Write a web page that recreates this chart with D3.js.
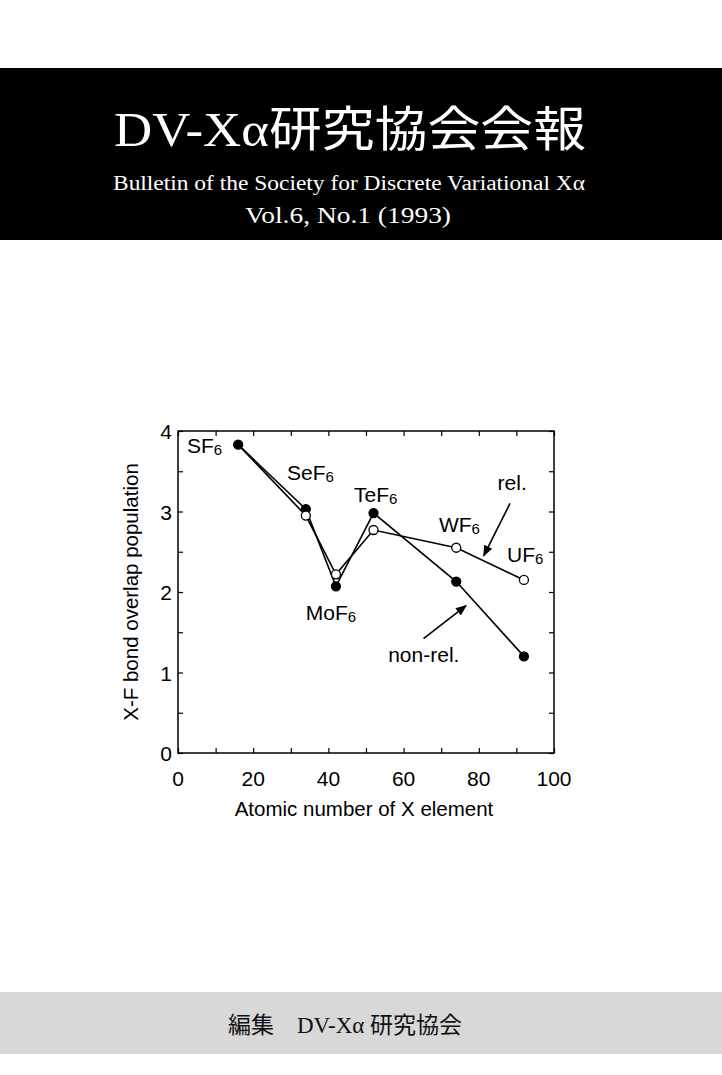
<!DOCTYPE html>
<html lang="en">
<head>
<meta charset="UTF-8">
<script src="https://d3js.org/d3.v7.min.js"></script>
<style>
  body { margin: 0; background: #fff; }
  svg { display: block; }
</style>
</head>
<body>
<div id="chart"></div>
<script>
  const compounds = ["SF6", "SeF6", "MoF6", "TeF6", "WF6", "UF6"];
  const atomicNumber = [16, 34, 42, 52, 74, 92];
  const nonRel = [3.83, 3.03, 2.07, 2.98, 2.13, 1.20];
  const rel = [3.83, 2.95, 2.22, 2.77, 2.55, 2.15];
  const xTicks = [0, 20, 40, 60, 80, 100];
  const yTicks = [0, 1, 2, 3, 4];
  // label anchors in data units: [base, x, y]
  const labels = [["SF", 2.4, 3.73], ["SeF", 29, 3.39], ["TeF", 46.8, 3.12],
                  ["WF", 69.4, 2.74], ["UF", 87.5, 2.37], ["MoF", 34, 1.65]];

  const width = 722, height = 1075;
  const svg = d3.select("#chart").append("svg").attr("width", width).attr("height", height);
  const serif = "'Liberation Serif', 'Noto Sans CJK JP', serif";
  const sans = "'Liberation Sans', Arial, sans-serif";

  // header band
  svg.append("rect").attr("x", 0).attr("y", 68).attr("width", width).attr("height", 172).attr("fill", "#000");
  svg.append("text").attr("x", 114).attr("y", 146).attr("textLength", 472).attr("lengthAdjust", "spacingAndGlyphs")
    .attr("fill", "#fff").attr("font-family", serif).attr("font-size", 48).text("DV-Xα研究協会会報");
  svg.append("text").attr("x", 113).attr("y", 190).attr("textLength", 472).attr("lengthAdjust", "spacingAndGlyphs")
    .attr("fill", "#fff").attr("font-family", serif).attr("font-size", 20)
    .text("Bulletin of the Society for Discrete Variational Xα");
  svg.append("text").attr("x", 245).attr("y", 223).attr("textLength", 206).attr("lengthAdjust", "spacingAndGlyphs")
    .attr("fill", "#fff").attr("font-family", serif).attr("font-size", 23).text("Vol.6, No.1 (1993)");

  // footer band
  svg.append("rect").attr("x", 0).attr("y", 992).attr("width", width).attr("height", 62).attr("fill", "#d8d8d8");
  svg.append("text").attr("x", 345).attr("y", 1033).attr("text-anchor", "middle")
    .attr("fill", "#111").attr("font-family", serif).attr("font-size", 23).text("編集　DV-Xα 研究協会");

  // plot
  const x = d3.scaleLinear().domain([0, 100]).range([178, 554]);
  const y = d3.scaleLinear().domain([0, 4]).range([753, 431]);
  const g = svg.append("g");

  g.append("rect").attr("x", 178).attr("y", 431).attr("width", 376).attr("height", 322)
    .attr("fill", "none").attr("stroke", "#000").attr("stroke-width", 1.5);

  const xAxis = (sel, axis) => sel.call(axis).call(s => s.select(".domain").remove())
    .call(s => s.selectAll("line").attr("stroke", "#000").attr("stroke-width", 1.2));
  g.append("g").attr("transform", `translate(0,${y(0)})`)
    .call(s => xAxis(s, d3.axisBottom(x).tickValues(d3.range(0, 101, 10)).tickSize(-5).tickFormat("")));
  g.append("g").attr("transform", `translate(0,${y(4)})`)
    .call(s => xAxis(s, d3.axisTop(x).tickValues(d3.range(0, 101, 10)).tickSize(-5).tickFormat("")));
  g.append("g").attr("transform", `translate(${x(0)},0)`)
    .call(s => xAxis(s, d3.axisLeft(y).tickValues(d3.range(0, 4.01, 0.5)).tickSize(-5).tickFormat("")));
  g.append("g").attr("transform", `translate(${x(100)},0)`)
    .call(s => xAxis(s, d3.axisRight(y).tickValues(d3.range(0, 4.01, 0.5)).tickSize(-5).tickFormat("")));

  g.selectAll(".xt").data(xTicks).join("text")
    .attr("x", d => x(d)).attr("y", 786).attr("text-anchor", "middle")
    .attr("font-family", sans).attr("font-size", 21).text(d => d);
  g.selectAll(".yt").data(yTicks).join("text")
    .attr("x", 172).attr("y", d => y(d) + 8).attr("text-anchor", "end")
    .attr("font-family", sans).attr("font-size", 21).text(d => d);

  svg.append("text").attr("x", 364).attr("y", 816).attr("text-anchor", "middle")
    .attr("font-family", sans).attr("font-size", 20.5).text("Atomic number of X element");
  svg.append("text").attr("transform", "translate(138,592) rotate(-90)").attr("text-anchor", "middle")
    .attr("font-family", sans).attr("font-size", 20.5).text("X-F bond overlap population");

  const line = d3.line().x((d, i) => x(atomicNumber[i])).y(d => y(d));
  [rel, nonRel].forEach(vals => {
    g.append("path").datum(vals).attr("d", line).attr("fill", "none")
      .attr("stroke", "#000").attr("stroke-width", 1.6);
  });
  [[nonRel, "#000"], [rel, "#fff"]].forEach(([vals, fill], k) => {
    g.selectAll(null).data(vals.slice(k)).join("circle")
      .attr("cx", (d, i) => x(atomicNumber[i + k])).attr("cy", d => y(d)).attr("r", 4.5)
      .attr("fill", fill).attr("stroke", "#000").attr("stroke-width", 1.3);
  });

  labels.forEach(([b, lx, ly]) => {
    const t = g.append("text").attr("x", x(lx)).attr("y", y(ly))
      .attr("font-family", sans).attr("font-size", 21).text(b);
    t.append("tspan").attr("font-size", 15).attr("dy", 2).text("6");
  });
  g.append("text").attr("x", x(85)).attr("y", y(3.27)).attr("font-family", sans).attr("font-size", 21).text("rel.");
  g.append("text").attr("x", x(55.9)).attr("y", y(1.13)).attr("font-family", sans).attr("font-size", 21).text("non-rel.");

  svg.append("defs").append("marker").attr("id", "ah").attr("viewBox", "0 0 10 10")
    .attr("refX", 9).attr("refY", 5).attr("markerWidth", 7).attr("markerHeight", 7).attr("orient", "auto")
    .append("path").attr("d", "M0,1 L10,5 L0,9 Z").attr("fill", "#000");
  [[[88.3, 3.1], [81.3, 2.45]], [[65.3, 1.42], [76.6, 1.83]]].forEach(([a, b]) => {
    g.append("line").attr("x1", x(a[0])).attr("y1", y(a[1])).attr("x2", x(b[0])).attr("y2", y(b[1]))
      .attr("stroke", "#000").attr("stroke-width", 1.6).attr("marker-end", "url(#ah)");
  });
</script>
</body>
</html>
